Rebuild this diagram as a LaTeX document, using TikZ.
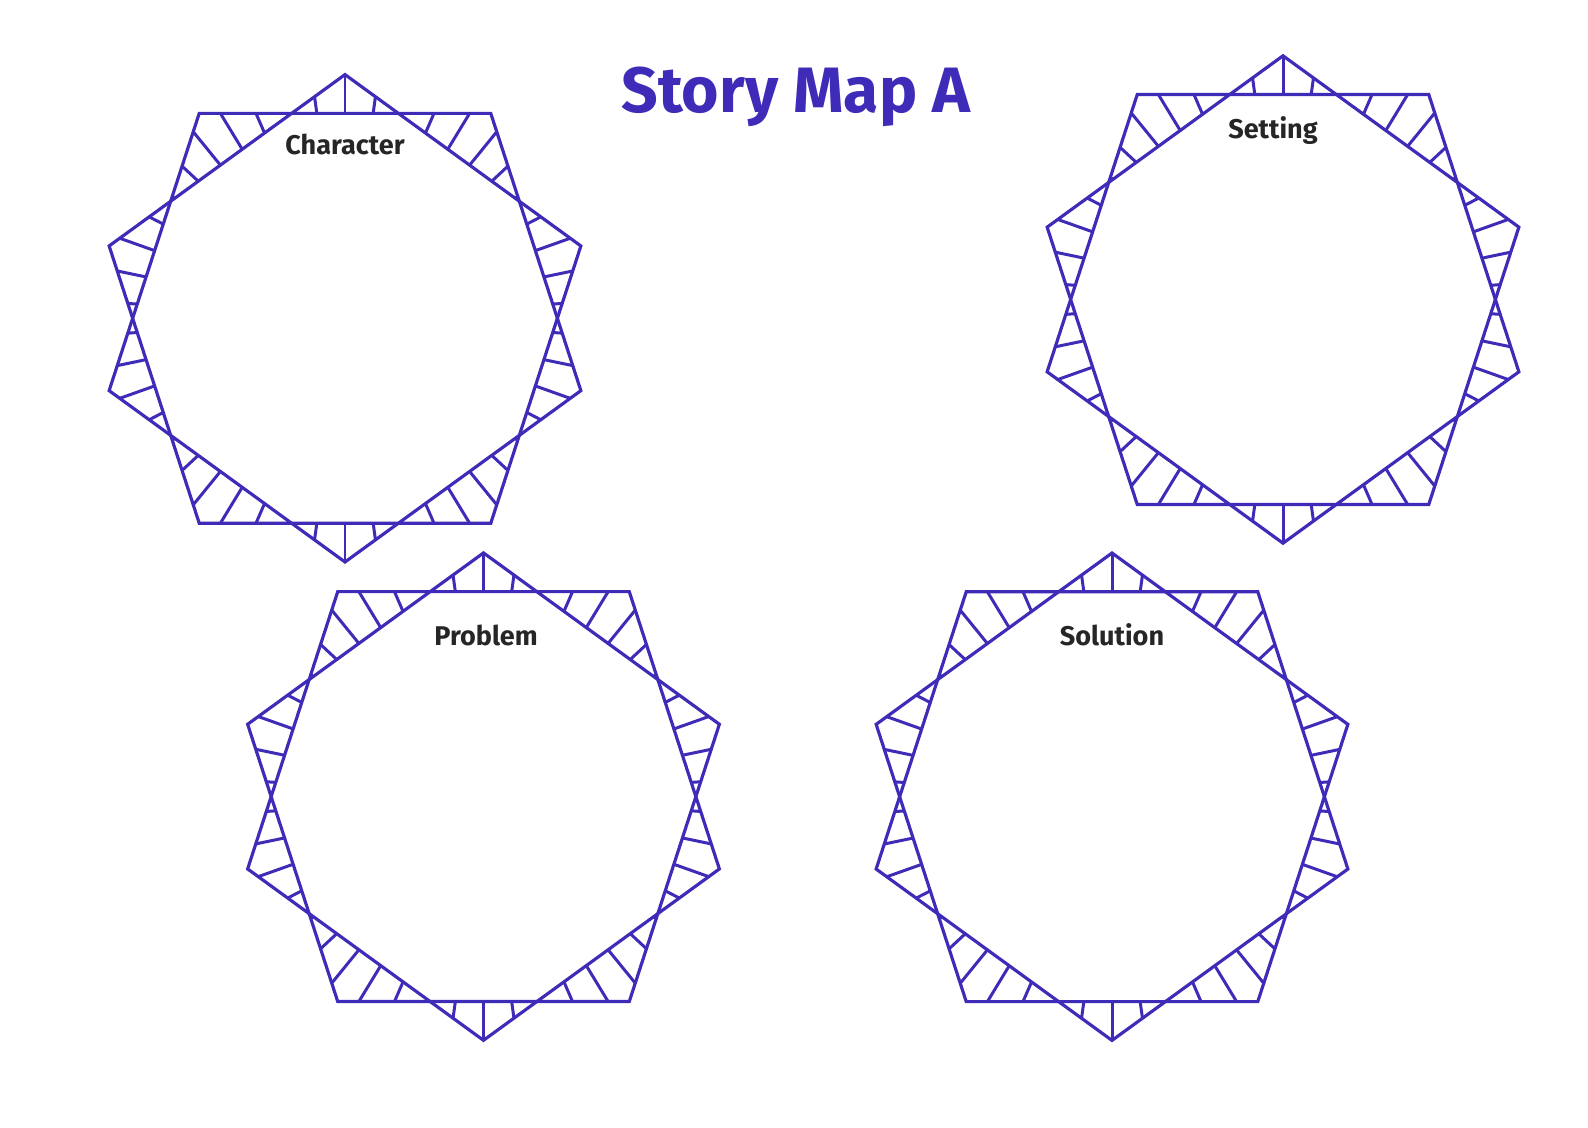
\documentclass[tikz,border=0pt]{standalone}
\usepackage{fontspec}
\setmainfont{Fira Sans}
\usepackage{tikz}
\usepackage{xcolor}
\usetikzlibrary{positioning}
\definecolor{indigo}{RGB}{62, 44, 184}
\definecolor{ink}{RGB}{38, 38, 38}
\tikzstyle{starline} = [
    draw=indigo,
    line width=1.8pt
]
\tikzstyle{hatch} = [
    draw=indigo,
    line width=1.7pt
]
\tikzstyle{maptitle} = [
    text=indigo,
    font=\fontsize{36.5}{42}\selectfont\bfseries,
    anchor=base
]
\tikzstyle{cardlabel} = [
    text=ink,
    font=\fontsize{15.4}{18}\selectfont\bfseries,
    anchor=base
]

\begin{document}
\begin{tikzpicture}[x=0.02cm, y=0.02cm]
    \useasboundingbox (0,0) rectangle (1588,1127);
    \fill[white] (0,0) rectangle (1588,1127);

    % Title
    \node[maptitle] (title) at (796,1014) {Story Map A};

    % Stars: two pentagons, hatched points
    \foreach \cx/\cy in {345/808.7, 1283/827.5, 483.5/330.4, 1112/330.3} {
        \begin{scope}[shift={(\cx,\cy)}]
            \foreach \k/\a in {1/90, 2/162, 3/234, 4/306, 5/18}
                \coordinate (up\k) at ({248*cos(\a)},{248*sin(\a)-4.3});
            \foreach \k/\a in {1/270, 2/342, 3/54, 4/126, 5/198}
                \coordinate (dn\k) at ({248*cos(\a)},{248*sin(\a)+4.3});
            \begin{scope}[even odd rule]
                \clip (up1) -- (up2) -- (up3) -- (up4) -- (up5) -- cycle
                      (dn1) -- (dn2) -- (dn3) -- (dn4) -- (dn5) -- cycle;
                \foreach \k in {0,...,45}
                    \draw[hatch] (0,0) -- ({90+\k*360/46}:300);
            \end{scope}
            \draw[starline] (up1) -- (up2) -- (up3) -- (up4) -- (up5) -- cycle;
            \draw[starline] (dn1) -- (dn2) -- (dn3) -- (dn4) -- (dn5) -- cycle;
        \end{scope}
    }

    % Labels
    \node[cardlabel] (character) at (345,972) {Character};
    \node[cardlabel] (setting) at (1273,988) {Setting};
    \node[cardlabel] (problem) at (486,482) {Problem};
    \node[cardlabel] (solution) at (1112,482) {Solution};
\end{tikzpicture}
\end{document}
